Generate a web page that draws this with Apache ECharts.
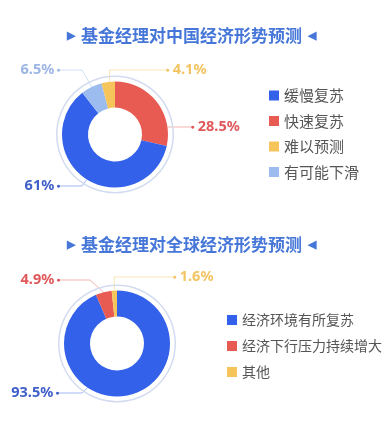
<!DOCTYPE html>
<html><head><meta charset="utf-8">
<script src="https://cdn.jsdelivr.net/npm/echarts@6/dist/echarts.min.js"></script>
<style>html,body{margin:0;padding:0;background:#fff}#c{width:383px;height:421px}</style>
</head><body><div id="c"></div>
<script>
// ---- data ----
const title1 = '基金经理对中国经济形势预测';
const title2 = '基金经理对全球经济形势预测';
// chart 1 (slice order clockwise from 12 o'clock)
const cnNames  = ['快速复苏', '缓慢复苏', '有可能下滑', '难以预测'];
const cnValues = [28.5, 61, 6.5, 4.1];
const cnLegend = ['缓慢复苏', '快速复苏', '难以预测', '有可能下滑'];
// chart 2
const glNames  = ['经济环境有所复苏', '经济下行压力持续增大', '其他'];
const glValues = [93.5, 4.9, 1.6];
const glLegend = ['经济环境有所复苏', '经济下行压力持续增大', '其他'];

// ---- styles ----
const C = {
  '缓慢复苏': '#3361ea', '快速复苏': '#e85b52', '难以预测': '#f5c55c', '有可能下滑': '#9cbcf0',
  '经济环境有所复苏': '#3361ea', '经济下行压力持续增大': '#e85b52', '其他': '#f5c55c'
};
const TXT = {
  '缓慢复苏': '#3f5fc8', '快速复苏': '#e0585a', '难以预测': '#f2c462', '有可能下滑': '#9db6e6',
  '经济环境有所复苏': '#3f5fc8', '经济下行压力持续增大': '#e0585a', '其他': '#f2c462'
};
const CEN1 = [115, 134.5], CEN2 = [117, 343.5];
const R_IN = 27, R_OUT = 53;
// label guide layout: start angle (deg from top, clockwise), label y offset, elbow x offset (null = vertical), end x offset, side
const LAY1 = [
  {a: 81.9, ty: -7.5, ex: null, end: 78, side: 'r'},
  {a: 212, ty: 51.5, ex: -33, end: -57, side: 'l'},
  {a: 334, ty: -64.5, ex: -33, end: -57, side: 'l'},
  {a: 354, ty: -64.5, ex: null, end: 53, side: 'r'}
];
const LAY2 = [
  {a: 213.7, ty: 49.5, ex: -35, end: -60, side: 'l'},
  {a: 345.4, ty: -63.5, ex: -27, end: -59, side: 'l'},
  {a: 357, ty: -66.5, ex: null, end: 58, side: 'r'}
];

function makeLayout(cen, lay) {
  return function (p) {
    const L = lay[p.dataIndex];
    const rad = L.a * Math.PI / 180;
    const sx = cen[0] + R_OUT * Math.sin(rad), sy = cen[1] - R_OUT * Math.cos(rad);
    const y = cen[1] + L.ty;
    const ex = L.ex === null ? sx : cen[0] + L.ex;
    const endX = cen[0] + L.end;
    return {
      x: L.side === 'l' ? endX + 2.5 : endX - 2.5,
      y: y,
      align: L.side === 'l' ? 'right' : 'left',
      verticalAlign: 'middle',
      labelLinePoints: [[sx, sy], [ex, y], [endX, y]]
    };
  };
}

function pieData(names, values, lay) {
  return names.map((n, i) => ({
    name: n, value: values[i],
    itemStyle: {color: C[n]},
    label: {
      formatter: lay[i].side === 'l' ? '{v|{c}%}{d|●}' : '{d|●}{v|{c}%}',
      rich: {
        v: {color: TXT[n], fontSize: 14.5, fontWeight: 'bold', fontFamily: 'Noto Sans, sans-serif'},
        d: {color: TXT[n], fontSize: 7, padding: lay[i].side === 'l' ? [0, 0, 0, 2] : [0, 3, 0, 0]}
      }
    },
    labelLine: {lineStyle: {color: C[n], opacity: 0.45, width: 1}}
  }));
}

function ring(cen) {
  return {
    type: 'pie', silent: true, center: cen, radius: [57.5, 59], label: {show: false},
    labelLine: {show: false}, data: [{value: 1, name: '', itemStyle: {color: '#d3dbf1'}}], animation: false
  };
}

function mainPie(cen, names, values, lay) {
  return {
    type: 'pie', center: cen, radius: [R_IN, R_OUT], startAngle: 90, clockwise: true,
    avoidLabelOverlap: false, animation: false, silent: true,
    label: {show: true, position: 'outside'},
    labelLine: {show: true},
    labelLayout: makeLayout(cen, lay),
    data: pieData(names, values, lay)
  };
}

const titleRich = {
  t: {color: '#4677d8', fontSize: 17, fontWeight: 'bold', fontFamily: 'Noto Sans CJK SC', padding: [0, 6, 0, 6]},
  a: {color: '#4677d8', fontSize: 11}
};

const chart = echarts.init(document.getElementById('c'), null, {renderer: 'canvas'});
chart.setOption({
  backgroundColor: '#fff',
  animation: false,
  title: [
    {text: '{a|▶}{t|' + title1 + '}{a|◀}', left: 'center', top: 22, textStyle: {rich: titleRich}},
    {text: '{a|▶}{t|' + title2 + '}{a|◀}', left: 'center', top: 231, textStyle: {rich: titleRich}}
  ],
  legend: [
    {data: cnLegend, orient: 'vertical', left: 264, top: 83, itemWidth: 10, itemHeight: 10, itemGap: 10.5,
     icon: 'rect', selectedMode: false,
     textStyle: {color: '#555', fontSize: 15, fontFamily: 'Noto Sans CJK SC'}},
    {data: glLegend, orient: 'vertical', left: 222, top: 308, itemWidth: 10, itemHeight: 10, itemGap: 12,
     icon: 'rect', selectedMode: false,
     textStyle: {color: '#555', fontSize: 14, fontFamily: 'Noto Sans CJK SC'}}
  ],
  series: [
    ring(CEN1), mainPie(CEN1, cnNames, cnValues, LAY1),
    ring(CEN2), mainPie(CEN2, glNames, glValues, LAY2)
  ]
});
</script></body></html>
